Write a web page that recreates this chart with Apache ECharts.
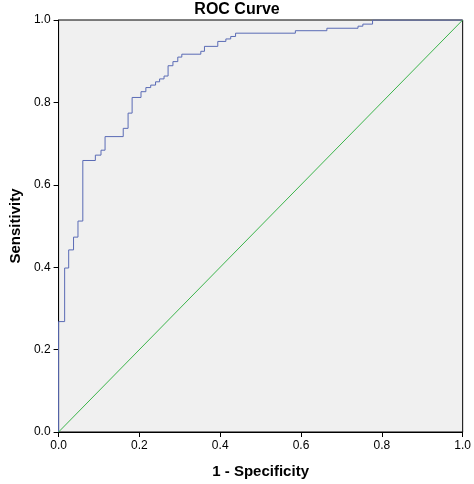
<!DOCTYPE html>
<html><head><meta charset="utf-8">
<script src="https://cdn.jsdelivr.net/npm/echarts@6/dist/echarts.min.js"></script>
<style>html,body{margin:0;padding:0;background:#fff}#main{width:474px;height:484px}</style>
</head><body><div id="main"></div>
<script>
var fpr = [0, 0, 0.015, 0.025, 0.037, 0.048, 0.06, 0.091, 0.105, 0.115, 0.16, 0.172, 0.182, 0.204, 0.216, 0.228, 0.24, 0.25, 0.261, 0.271, 0.283, 0.295, 0.305, 0.352, 0.361, 0.394, 0.414, 0.426, 0.438, 0.586, 0.664, 0.741, 0.753, 0.777, 1];
var tpr = [0, 0.268, 0.398, 0.442, 0.473, 0.512, 0.659, 0.672, 0.684, 0.717, 0.737, 0.774, 0.812, 0.826, 0.836, 0.842, 0.85, 0.857, 0.864, 0.889, 0.899, 0.91, 0.917, 0.924, 0.936, 0.948, 0.954, 0.96, 0.968, 0.974, 0.98, 0.985, 0.99, 1, 1];
var refX = [0, 0.25, 0.5, 0.75, 1];

var chart = echarts.init(document.getElementById('main'));
var axisCommon = {
  type: 'value', min: 0, max: 1, interval: 0.2,
  nameLocation: 'middle',
  nameTextStyle: {fontFamily: 'Liberation Sans', fontWeight: 'bold', fontSize: 15, color: '#000'},
  axisLine: {show: true, lineStyle: {color: '#000', width: 1}},
  axisTick: {show: true, length: 5, lineStyle: {color: '#000'}},
  axisLabel: {fontFamily: 'Liberation Sans', fontSize: 12, color: '#000', formatter: function (v) { return v.toFixed(1); }},
  splitLine: {show: false}
};
chart.setOption({
  animation: false,
  title: {text: 'ROC Curve', left: 'center', top: -3,
    textStyle: {fontFamily: 'Liberation Sans', fontWeight: 'bold', fontSize: 16, color: '#000'}},
  grid: {left: 54, right: 7, top: 20, bottom: 52, show: true, backgroundColor: '#f0f0f0', borderColor: '#000', borderWidth: 1},
  xAxis: Object.assign({}, axisCommon, {name: '1 - Specificity', nameGap: 32}),
  yAxis: Object.assign({}, axisCommon, {name: 'Sensitivity', nameGap: 34}),
  series: [
    {type: 'line', step: 'end', data: fpr.map(function (x, i) { return [x, tpr[i]]; }),
      showSymbol: false, lineStyle: {color: '#5a6bb5', width: 1}, z: 2},
    {type: 'line', data: refX.map(function (x) { return [x, x]; }), showSymbol: false,
      itemStyle: {color: '#3cb44b'}, lineStyle: {color: '#3cb44b', width: 1}, z: 3}
  ]
});
</script></body></html>
